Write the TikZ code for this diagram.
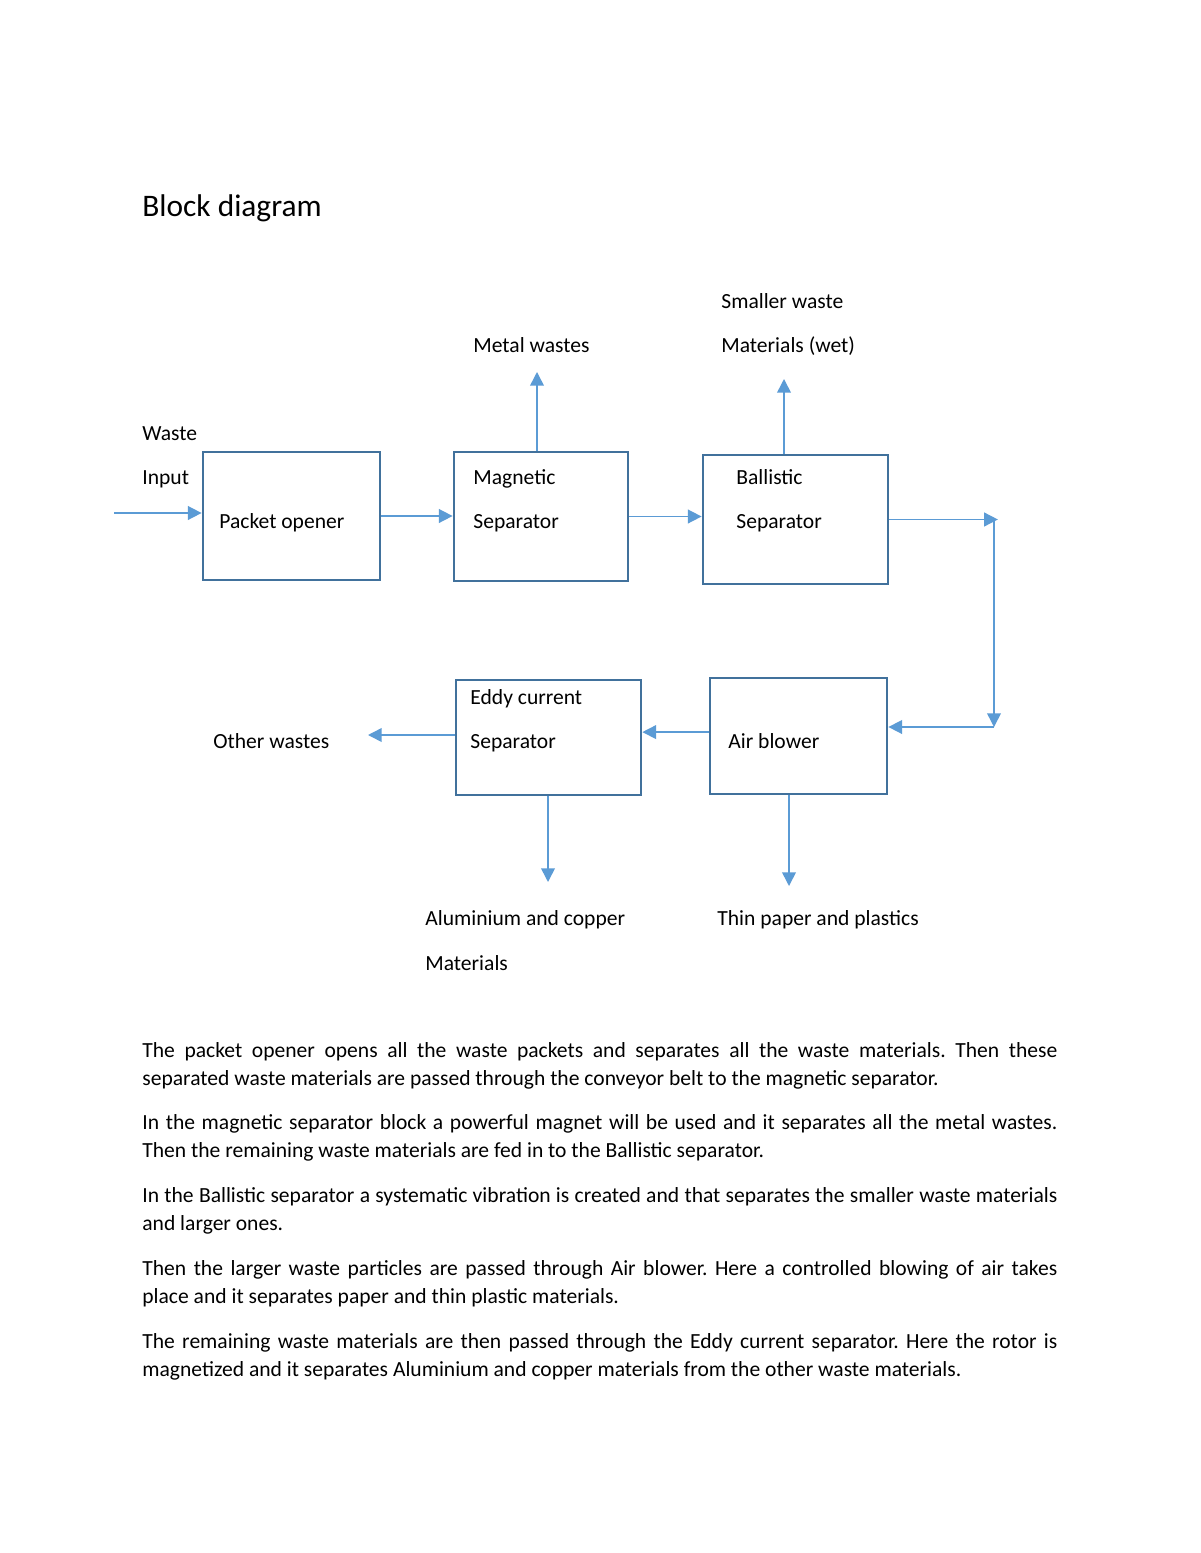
\documentclass[tikz,border=0pt]{standalone}
\usepackage{fontspec}
\setmainfont{Carlito}
\frenchspacing
\usetikzlibrary{arrows.meta, positioning, fit, calc}
\definecolor{boxblue}{HTML}{41719C}
\definecolor{linkblue}{HTML}{5B9BD5}
\tikzset{
  blockdiagram/.style={
	x=0.51pt, y=-0.51pt, % one unit is one pixel of the page
	font=\fontsize{11}{14.5}\selectfont, % body text size
	block/.style={draw=boxblue, line width=1.4pt, inner sep=0pt}, % the boxes
	flow/.style={draw=linkblue, line width=0.8pt, -{Triangle[length=7pt,width=7pt]}}, % the arrows
	txt/.style={anchor=base west, inner sep=0pt}, % a label
	bodytext/.style={anchor=base west, inner sep=0pt, text width=466.6pt, align=justify}, % a paragraph
  }
}
\begin{document}
\begin{tikzpicture}[blockdiagram]
	  \useasboundingbox[fill=white] (0,0) rectangle (1200,1553);
	  \node[txt, font=\fontsize{16}{19}\selectfont] (title) at (142,216) {Block diagram};
	  \node[block, fit={(203,452) (380,580)}] (po) {};
	  \node[block, fit={(454,452) (628,581)}] (ms) {};
	  \node[block, fit={(703,455) (888,584)}] (bs) {};
	  \node[block, fit={(456,680) (641,795)}] (ec) {};
	  \node[block, fit={(710,678) (887,794)}] (ab) {};
	  \node[txt] (win1) at (142,440) {Waste};
	  \node[txt] (win2) at (142,484) {Input};
	  \node[txt] (pot) at (219,528) {Packet opener};
	  \node[txt] (mst1) at (473,484) {Magnetic};
	  \node[txt] (mst2) at (473,528) {Separator};
	  \node[txt] (bst1) at (736,484) {Ballistic};
	  \node[txt] (bst2) at (736,528) {Separator};
	  \node[txt] (mwt) at (473,352) {Metal wastes};
	  \node[txt] (swt1) at (721,308) {Smaller waste};
	  \node[txt] (swt2) at (721,352) {Materials (wet)};
	  \node[txt] (ect1) at (470,704) {Eddy current};
	  \node[txt] (ect2) at (470,748) {Separator};
	  \node[txt] (abt) at (728,748) {Air blower};
	  \node[txt] (owt) at (213,748) {Other wastes};
	  \node[txt] (act1) at (425,925) {Aluminium and copper};
	  \node[txt] (act2) at (425,970) {Materials};
	  \node[txt] (tpt) at (717,925) {Thin paper and plastics};
	  \coordinate (win) at (114,513);
	  \coordinate (mw) at (537,372);
	  \coordinate (sw) at (784,379);
	  \coordinate (rt) at (994,519);
	  \coordinate (rb) at (994,727);
	  \coordinate (ow) at (368,735);
	  \coordinate (ac) at (548,882);
	  \coordinate (tp) at (789,886);
	  \draw[flow] (win) -- (win -| po.west);
	  \draw[flow] (po.east) -- (po.east -| ms.west);
	  \draw[flow] (ms.east) -- (ms.east -| bs.west);
	  \draw[flow] (mw |- ms.north) -- (mw);
	  \draw[flow] (sw |- bs.north) -- (sw);
	  \draw[flow] (bs.east) -- ([xshift=2pt]bs.east -| rt);
	  \draw[flow] (rt) -- (rb);
	  \draw[flow] (rb) -- (rb -| ab.east);
	  \draw[flow] ([yshift=2pt]ab.west) -- ([yshift=2pt]ab.west -| ec.east);
	  \draw[flow] (ow -| ec.west) -- (ow);
	  \draw[flow] (ac |- ec.south) -- (ac);
	  \draw[flow] (tp |- ab.south) -- (tp);
	  \node[bodytext] (p1) at (142,1057) {The packet opener opens all the waste packets and separates all the waste materials. Then these\linebreak separated waste materials are passed through the conveyor belt to the magnetic separator.};
	  \node[bodytext] (p2) at (142,1129) {In the magnetic separator block a powerful magnet will be used and it separates all the metal wastes.\linebreak Then the remaining waste materials are fed in to the Ballistic separator.};
	  \node[bodytext] (p3) at (142,1202) {In the Ballistic separator a systematic vibration is created and that separates the smaller waste materials\linebreak and larger ones.};
	  \node[bodytext] (p4) at (142,1275) {Then the larger waste particles are passed through Air blower. Here a controlled blowing of air takes\linebreak place and it separates paper and thin plastic materials.};
	  \node[bodytext] (p5) at (142,1348) {The remaining waste materials are then passed through the Eddy current separator. Here the rotor is\linebreak magnetized and it separates Aluminium and copper materials from the other waste materials.};
\end{tikzpicture}
\end{document}
